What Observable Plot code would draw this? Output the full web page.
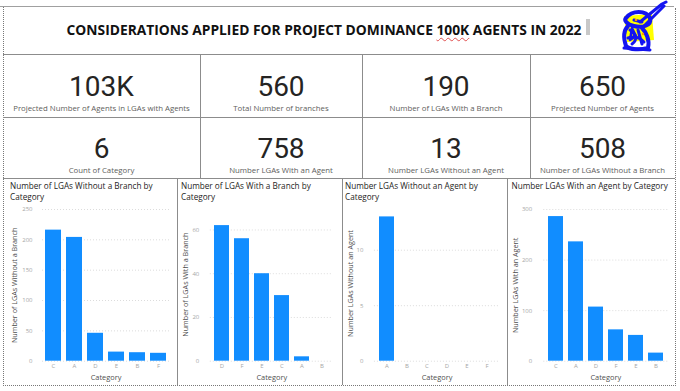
<!DOCTYPE html>
<html><head><meta charset="utf-8">
<script src="https://cdn.jsdelivr.net/npm/d3@7"></script>
<script src="https://cdn.jsdelivr.net/npm/@observablehq/plot@0.6"></script>
<style>
html,body{margin:0;padding:0;background:#fff}
body{width:680px;height:391px;position:relative;overflow:hidden;font-family:"Open Sans",sans-serif}
.a{position:absolute}
.hl{position:absolute;height:0;border-top:1px solid #8c8c8c}
.vl{position:absolute;width:0;border-left:1px solid #8c8c8c}
.num{position:absolute;text-align:center;font-family:Roboto,sans-serif;font-size:28px;color:#252423;line-height:30px;transform:translate(-50%,-50%);white-space:nowrap}
.lab{position:absolute;text-align:center;font-size:7.8px;color:#605E5C;line-height:10px;transform:translate(-50%,-50%);white-space:nowrap}
.ct{position:absolute;font-size:8.2px;color:#252423;line-height:10.5px;white-space:nowrap}
</style></head><body>
<script>
// ---------- data ----------
const pageTitle = "CONSIDERATIONS APPLIED FOR PROJECT DOMINANCE 100K AGENTS IN 2022";
const kpiValues = ["103K", "560", "190", "650", "6", "758", "13", "508"];
const kpiLabels = ["Projected Number of Agents in LGAs with Agents", "Total Number of branches", "Number of LGAs With a Branch", "Projected Number of Agents",
                   "Count of Category", "Number LGAs With an Agent", "Number LGAs Without an Agent", "Number of LGAs Without a Branch"];

const chartTitles = ["Number of LGAs Without a Branch by|Category", "Number of LGAs With a Branch by|Category", "Number LGAs Without an Agent by|Category", "Number LGAs With an Agent by Category"];
const yLabels = ["Number of LGAs Without a Branch", "Number of LGAs With a Branch", "Number LGAs Without an Agent", "Number LGAs With an Agent"];
const xLabel = "Category";

const cat1 = ["C", "A", "D", "E", "B", "F"];
const val1 = [216, 204, 46, 15, 14, 13];
const ticks1 = [0, 50, 100, 150, 200, 250];

const cat2 = ["D", "F", "E", "C", "A", "B"];
const val2 = [62, 56, 40, 30, 2, 0];
const ticks2 = [0, 20, 40, 60];

const cat3 = ["A", "B", "C", "D", "E", "F"];
const val3 = [13, 0, 0, 0, 0, 0];
const ticks3 = [0, 5, 10];

const cat4 = ["C", "A", "D", "F", "E", "B"];
const val4 = [286, 236, 107, 62, 51, 16];
const ticks4 = [0, 100, 200, 300];

// ---------- layout ----------
const body = document.body;
function el(tag, cls, style, html) {
  const e = document.createElement(tag);
  if (cls) e.className = cls;
  Object.assign(e.style, style);
  if (html != null) e.innerHTML = html;
  body.appendChild(e);
  return e;
}

// page frame
el("div", "hl", {left: "0px", top: "6px", width: "674px", borderTopColor: "#a0a0a0"});
el("div", "a", {left: "3px", top: "7px", width: "0", height: "379px", borderLeft: "1px dotted #777"});
el("div", "a", {left: "675px", top: "8px", width: "0", height: "378px", borderLeft: "1px dotted #777"});
el("div", "a", {left: "3px", top: "385px", width: "673px", height: "0", borderTop: "1px dotted #777"});

// title
const t = pageTitle.replace("100K", '<span style="text-decoration:underline wavy #e05050;text-decoration-thickness:1px;text-underline-offset:2px">100K</span>');
el("div", "a", {left: "0px", top: "21px", width: "648px", textAlign: "center", fontWeight: "700", fontSize: "13.8px", lineHeight: "18px", color: "#111", whiteSpace: "nowrap"}, t);
el("div", "a", {left: "586px", top: "19px", width: "4px", height: "16px", background: "#c8c8c8"});

// logo (decorative drawing)
el("div", "a", {left: "612px", top: "0px"}, `
<svg width="60" height="56" viewBox="0 0 60 56">
  <path d="M12 16 L40 14 L42 40 L15 42 Z" fill="#ffff00"/>
  <g fill="none" stroke="#1414f0" stroke-linecap="round" stroke-linejoin="round">
    <path d="M28 22 L50 4 L54 2 M32 26 L52 6" stroke-width="3"/>
    <path d="M14 18 C20 10 34 10 38 18 C40 26 30 28 22 26 C14 24 12 20 14 18 Z" stroke-width="4"/>
    <path d="M16 26 C10 32 12 40 14 46 C18 50 28 50 36 48 C38 40 34 32 30 28" stroke-width="4"/>
    <path d="M18 30 C24 34 26 40 20 44 M26 30 L30 44 M12 48 L38 50 M22 20 L30 22 M16 38 C22 36 28 38 32 42" stroke-width="3"/>
    <path d="M20 28 L24 36 L18 40 Z" stroke-width="2.5"/>
  </g>
  <circle cx="24" cy="20" r="1.3" fill="#ff9900"/><circle cx="31" cy="34" r="1.2" fill="#ff9900"/>
</svg>`);

// KPI grid
el("div", "hl", {left: "3px", top: "54px", width: "672px"});
el("div", "hl", {left: "3px", top: "117px", width: "672px"});
el("div", "hl", {left: "3px", top: "178px", width: "672px"});
const colEdges = [3, 200, 362, 530, 675];
[200, 362, 530].forEach(x => el("div", "vl", {left: x + "px", top: "54px", height: "124px"}));
kpiValues.forEach((v, i) => {
  const r = Math.floor(i / 4), c = i % 4;
  const cx = (colEdges[c] + colEdges[c + 1]) / 2;
  el("div", "num", {left: cx + "px", top: (r ? 149 : 87) + "px"}, v);
  el("div", "lab", {left: cx + "px", top: (r ? 170 : 107.5) + "px"}, kpiLabels[i]);
});

// chart panel borders
[177, 342, 507].forEach(x => el("div", "vl", {left: x + "px", top: "178px", height: "207px"}));

// ---------- charts ----------
const panels = [
  {cats: cat1, vals: val1, ticks: ticks1, max: 250, left: 3,   width: 173, ml: 39,   mr: 7,   mt: 9,   pad: 10, ydx: -28, tx: 10},
  {cats: cat2, vals: val2, ticks: ticks2, max: 70,  left: 178, width: 163, ml: 31.8, mr: 8.2, mt: 7.6, pad: 11, ydx: -25, tx: 181},
  {cats: cat3, vals: val3, ticks: ticks3, max: 14,  left: 342, width: 164, ml: 31.9, mr: 6.9, mt: 5.3, pad: 11, ydx: -24, tx: 345},
  {cats: cat4, vals: val4, ticks: ticks4, max: 300, left: 507, width: 168, ml: 36.3, mr: 7.7, mt: 9,   pad: 11.6, ydx: -28, tx: 511.5}
];
const svgTop = 200, svgH = 185;

panels.forEach((p, i) => {
  el("div", "ct", {left: p.tx + "px", top: "181px"}, chartTitles[i].split("|").join("<br>"));
  const data = p.cats.map((c, k) => ({cat: c, value: p.vals[k]}));
  const chart = Plot.plot({
    width: p.width, height: svgH,
    marginTop: p.mt, marginBottom: 24.3, marginLeft: p.ml, marginRight: p.mr,
    style: {fontFamily: "'Open Sans', sans-serif", fontSize: "6px", background: "transparent", overflow: "visible"},
    x: {domain: p.cats, paddingInner: 0.25, paddingOuter: 0.125},
    y: {domain: [0, p.max]},
    marks: [
      Plot.gridY(p.ticks, {stroke: "#dcdcdc", strokeOpacity: 1, strokeDasharray: "1,2"}),
      Plot.barY(data, {x: "cat", y: "value", fill: "#118DFF"}),
      Plot.axisX({tickSize: 0, tickPadding: 3, fontSize: 6, color: "#a6a6a6", label: null}),
      Plot.axisY(p.ticks, {tickSize: 0, tickPadding: p.pad, fontSize: 6, color: "#a6a6a6", label: null}),
      Plot.text([xLabel], {text: d => d, frameAnchor: "bottom", lineAnchor: "middle", textAnchor: "middle", dy: 16.5, fontSize: 7.4, fill: "#505050"}),
      Plot.text([yLabels[i]], {text: d => d, frameAnchor: "left", textAnchor: "middle", lineAnchor: "middle", dx: p.ydx, rotate: -90, fontSize: 7.2, fill: "#505050"})
    ]
  });
  chart.style.position = "absolute";
  chart.style.left = p.left + "px";
  chart.style.top = svgTop + "px";
  body.appendChild(chart);
});
</script>
</body></html>
